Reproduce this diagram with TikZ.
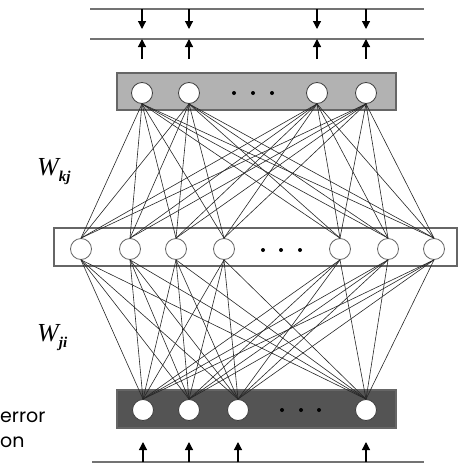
\documentclass[tikz,border=0pt]{standalone}
\usepackage{fontspec}
\newfontfamily\labelserif{Liberation Serif}
\newfontfamily\labelsans{Poppins}
\usetikzlibrary{arrows.meta}
\begin{document}
\begin{tikzpicture}[x=1pt,y=-1pt,
  neuron/.style={circle,draw=black!75,fill=white,line width=0.8pt,minimum size=21pt,inner sep=0pt},
  midneuron/.style={circle,draw=black!60,fill=white,line width=0.8pt,minimum size=21pt,inner sep=0pt},
  dotmark/.style={circle,fill=black,minimum size=4pt,inner sep=0pt},
  conn/.style={line width=0.6pt,draw=black!85},
  sig/.style={line width=1.2pt,-{Triangle[length=8pt,width=8pt]}},
  rail/.style={line width=1.2pt,draw=black!55},
  layerbox/.style={line width=1.2pt,draw=black!60}]
\useasboundingbox (0,0) rectangle (474,474);
% rails
\coordinate (r1a) at (90,9); \coordinate (r1b) at (424,9);
\coordinate (r2a) at (90,39); \coordinate (r2b) at (424,39);
\coordinate (r3a) at (92,462); \coordinate (r3b) at (424,462);
\draw[rail] (r1a) -- (r1b);
\draw[rail] (r2a) -- (r2b);
\draw[rail] (r3a) -- (r3b);
% boxes
\node[layerbox,fill=black!30,minimum width=279pt,minimum height=37pt,inner sep=0pt] (topbox) at (256.5,91.5) {};
\node[layerbox,fill=white,minimum width=403pt,minimum height=38pt,inner sep=0pt] (midbox) at (255.5,247) {};
\node[layerbox,fill=black!67,minimum width=279pt,minimum height=38pt,inner sep=0pt] (botbox) at (256.5,409) {};
% top layer
\foreach \n/\x in {1/142,2/189,3/317,4/366} \node[neuron] (t\n) at (\x,93) {};
\foreach \n/\x in {1/234,2/253,3/272} \node[dotmark] (td\n) at (\x,93) {};
% middle layer
\foreach \n/\x in {1/81,2/130,3/176,4/224,5/340,6/388,7/434} \node[midneuron] (m\n) at (\x,249) {};
\foreach \n/\x in {1/263,2/281,3/300} \node[dotmark] (md\n) at (\x,250) {};
% bottom layer
\foreach \n/\x in {1/143,2/189,3/238,4/366} \node[neuron] (b\n) at (\x,410) {};
\foreach \n/\x in {1/282,2/301,3/319} \node[dotmark] (bd\n) at (\x,410) {};
% connections
\foreach \i in {1,...,4} \foreach \j in {1,...,7} \draw[conn] (t\i.south) -- (m\j.north);
\foreach \i in {1,...,4} \foreach \j in {1,...,7} \draw[conn] (b\i.north) -- (m\j.south);
% signal arrows
\foreach \n/\x in {1/142,2/189,3/317,4/366} {
  \coordinate (da\n) at (\x,9); \coordinate (db\n) at (\x,29);
  \coordinate (ua\n) at (\x,59); \coordinate (ub\n) at (\x,39);
  \draw[sig] (da\n) -- (db\n);
  \draw[sig] (ua\n) -- (ub\n);
}
\foreach \n/\x in {1/143,2/189,3/238,4/366} {
  \coordinate (ia\n) at (\x,462); \coordinate (ib\n) at (\x,442);
  \draw[sig] (ia\n) -- (ib\n);
}
% labels
\node[anchor=base west,inner sep=0pt] (wkj) at (37,175) {\labelserif\fontsize{26}{26}\selectfont\itshape W\raisebox{-6pt}{\fontsize{15}{15}\selectfont\bfseries\itshape kj}};
\node[anchor=base west,inner sep=0pt] (wji) at (37,341) {\labelserif\fontsize{26}{26}\selectfont\itshape W\raisebox{-6pt}{\fontsize{15}{15}\selectfont\bfseries\itshape ji}};
\node[anchor=base west,inner sep=0pt] (err) at (0,422) {\labelsans\fontsize{19}{19}\selectfont error};
\node[anchor=base west,inner sep=0pt] (on) at (0,447) {\labelsans\fontsize{19}{19}\selectfont on};
\end{tikzpicture}
\end{document}
